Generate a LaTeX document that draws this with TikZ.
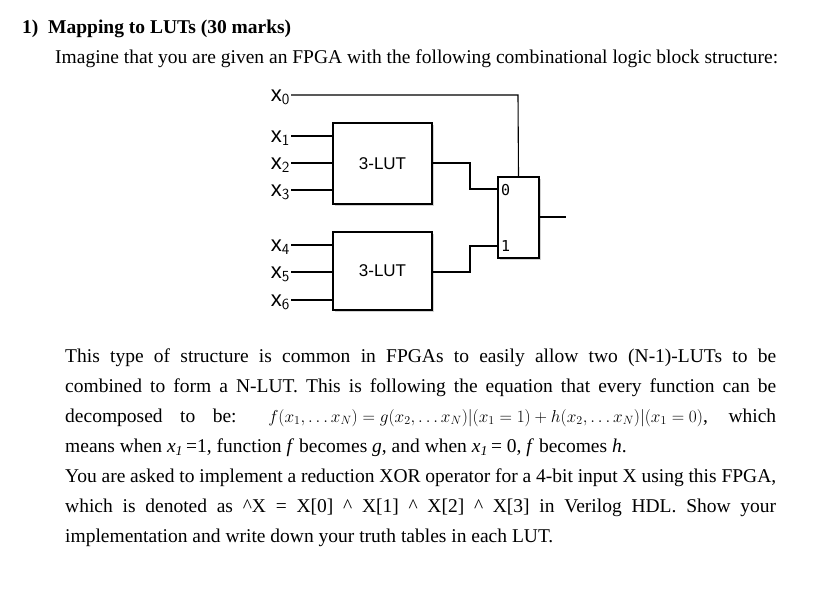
\documentclass[tikz,border=0pt]{standalone}
\usepackage{fontspec}
\setmainfont{Liberation Serif}
\newfontfamily\diag{Liberation Sans}
\newfontfamily\mono{DejaVu Sans Mono}
\usetikzlibrary{shadows}
\begin{document}
\begin{tikzpicture}[x=1pt,y=-1pt,
  box/.style={draw,line width=1.3pt,fill=white,inner sep=0,
    drop shadow={shadow xshift=1.5pt,shadow yshift=-1.5pt,opacity=.35}},
  wire/.style={line width=1.1pt},
  inlab/.style={anchor=east,inner sep=1pt,font=\diag\fontsize{22}{22}\selectfont},
  txt/.style={anchor=base west,inner sep=0,font=\fontsize{19.5}{22}\selectfont}]
\useasboundingbox (0,0) rectangle (838,590);
% heading
\node[txt,font=\bfseries\fontsize{19.5}{22}\selectfont] (h) at (22,33) {1)\ \ Mapping to LUTs (30 marks)};
\node[txt] (i) at (55,63) {Imagine that you are given an FPGA with the following combinational logic block structure:};
% boxes
\node[box,minimum width=99pt,minimum height=81pt] (lut1) at (382.5,163.5) {\diag\fontsize{17}{17}\selectfont 3-LUT};
\node[box,minimum width=99pt,minimum height=78pt] (lut2) at (382.5,271) {\diag\fontsize{17}{17}\selectfont 3-LUT};
\node[box,minimum width=41pt,minimum height=81pt] (mux) at (518.5,217.5) {};
\node[anchor=west,inner sep=1pt,font=\mono\fontsize{15}{15}\selectfont] (m0) at (500,190) {0};
\node[anchor=west,inner sep=1pt,font=\mono\fontsize{15}{15}\selectfont] (m1) at (500,246) {1};
% input labels
\node[inlab] (x0) at (291,97) {x$_{\mathsf 0}$};
\node[inlab] (x1) at (291,138) {x$_{\mathsf 1}$};
\node[inlab] (x2) at (291,165) {x$_{\mathsf 2}$};
\node[inlab] (x3) at (291,192) {x$_{\mathsf 3}$};
\node[inlab] (x4) at (291,247) {x$_{\mathsf 4}$};
\node[inlab] (x5) at (291,274) {x$_{\mathsf 5}$};
\node[inlab] (x6) at (291,302) {x$_{\mathsf 6}$};
% wires
\draw[wire] (x0.east |- 0,95) -- (518,95) -- (mux.north);
\draw[wire] (x1.east |- 0,136) -- (lut1.west |- 0,136);
\draw[wire] (x2.east |- 0,163) -- (lut1.west |- 0,163);
\draw[wire] (x3.east |- 0,190) -- (lut1.west |- 0,190);
\draw[wire] (x4.east |- 0,245) -- (lut2.west |- 0,245);
\draw[wire] (x5.east |- 0,272) -- (lut2.west |- 0,272);
\draw[wire] (x6.east |- 0,300) -- (lut2.west |- 0,300);
\draw[wire] (lut1.east |- 0,163) -- (470,163) -- (470,189) -- (mux.west |- 0,189);
\draw[wire] (lut2.east |- 0,272) -- (470,272) -- (470,246) -- (mux.west |- 0,246);
\coordinate (out) at (566,217);
\draw[wire] (mux.east |- out) -- (out);
% paragraph
\node[txt] (p1) at (65,362) {\makebox[711pt][s]{This type of structure is common in FPGAs to easily allow two (N-1)-LUTs to be}};
\node[txt] (p2) at (65,392) {\makebox[711pt][s]{combined to form a N-LUT. This is following the equation that every function can be}};
\node[txt] (p3) at (65,422) {\makebox[711pt][s]{decomposed to be: {\fontsize{17.5}{20}\selectfont\mbox{$f(x_1,\ldots x_N)=g(x_2,\ldots x_N)|(x_1=1)+h(x_2,\ldots x_N)|(x_1=0)$}}, which}};
\node[txt] (p4) at (65,452) {means when \textit{x}$_{\mathit 1}$\,=1, function \textit{f} becomes \textit{g}, and when \textit{x}$_{\mathit 1}$\,= 0, \textit{f} becomes \textit{h}.};
\node[txt] (p5) at (65,482) {\makebox[711pt][s]{You are asked to implement a reduction XOR operator for a 4-bit input X using this FPGA,}};
\node[txt] (p6) at (65,512) {\makebox[711pt][s]{which is denoted as \^{}X = X[0] \^{} X[1] \^{} X[2] \^{} X[3] in Verilog HDL. Show your}};
\node[txt] (p7) at (65,542) {implementation and write down your truth tables in each LUT.};
\end{tikzpicture}
\end{document}
